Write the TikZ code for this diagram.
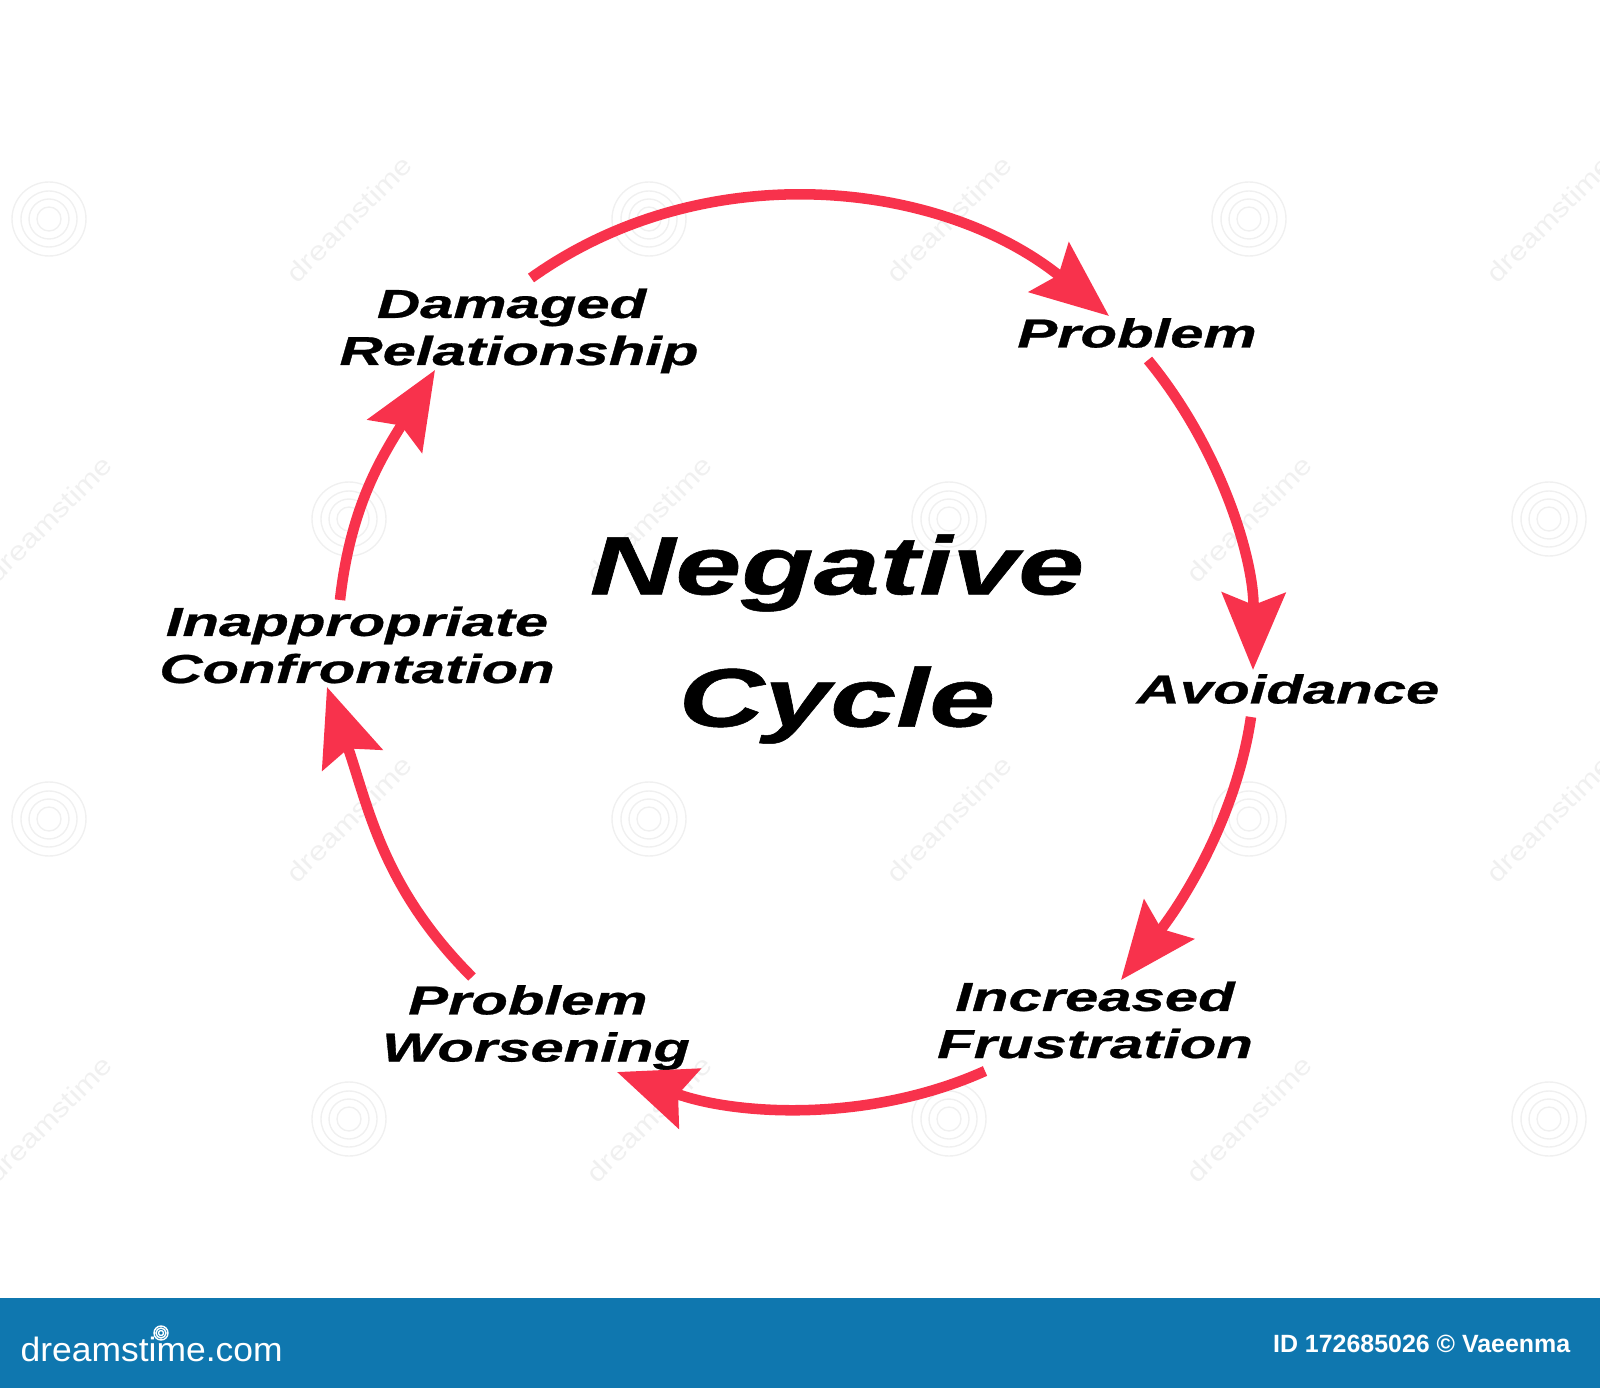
\documentclass[tikz,border=0pt]{standalone}
\usepackage{fontspec}
\setmainfont{Liberation Sans}
\newfontfamily\heavyfont[FakeBold=0.6]{Liberation Sans}
\usetikzlibrary{arrows.meta}
\usetikzlibrary{positioning}
\definecolor{cyclered}{RGB}{248,50,76}
\definecolor{barblue}{RGB}{15,119,175}
\definecolor{markgray}{RGB}{240,240,240}
\tikzset{lbl/.style = {font = \heavyfont\fontsize{11.5}{13.4}\selectfont\bfseries\itshape, align = center, xscale = 1.48, inner sep = 0}}
\tikzset{title/.style = {font = \heavyfont\fontsize{23.6}{37.6}\selectfont\bfseries\itshape, align = center, xscale = 1.43, inner sep = 0}}
\tikzset{cyc/.style = {draw = cyclered, line width = 3pt, looseness = 0.88, -{Stealth[length = 0.77cm, width = 0.63cm, inset = 0.12cm, fill = cyclered]}}}
\tikzset{spiral/.style = {draw = markgray, line width = 0.4pt}}
\tikzset{wmark/.style = {text = markgray, font = \fontsize{7.5}{9}\selectfont, rotate = 45, xscale = 1.2}}

\begin{document}
\begin{tikzpicture}
  \useasboundingbox (0, 0) rectangle (16, 13.88);

  % watermark
  \foreach \x/\y in {0.49/11.69, 6.49/11.69, 12.49/11.69, 3.49/8.69, 9.49/8.69, 15.49/8.69, 0.49/5.69, 6.49/5.69, 12.49/5.69, 3.49/2.69, 9.49/2.69, 15.49/2.69} {
    \foreach \r in {0.12, 0.2, 0.28, 0.37} {
      \draw [spiral] (\x, \y) circle (\r);
    }
  }
  \foreach \x/\y [count=\n] in {3.49/11.69, 9.49/11.69, 15.49/11.69, 0.49/8.69, 6.49/8.69, 12.49/8.69, 3.49/5.69, 9.49/5.69, 15.49/5.69, 0.49/2.69, 6.49/2.69, 12.49/2.69} {
    \node [wmark] (mark\n) at (\x, \y) {dreamstime};
  }

  % labels
  \node [lbl] (damaged) at (5.19, 10.57) {Damaged\hspace*{0.1cm}\\Relationship};
  \node [lbl] (problem) at (11.37, 10.55) {Problem};
  \node [lbl] (avoid) at (12.88, 6.99) {Avoidance};
  \node [lbl] (frustr) at (10.95, 3.68) {Increased\\Frustration};
  \node [lbl] (worse) at (5.36, 3.605) {Problem\hspace*{0.11cm}\\Worsening};
  \node [lbl] (confront) at (3.57, 7.43) {Inappropriate\\Confrontation};
  \node [title] (cycle) at (8.37, 7.49) {Negative\\Cycle};

  % arcs
  \draw [cyc, looseness = 0.95] ([shift={(0.12, 0.53)}]damaged.center) to [out=35.5, in=141] ([shift={(-0.28, 0.17)}]problem.center);
  \draw [cyc] ([shift={(0.11, -0.27)}]problem.center) to [out=-50.5, in=89.5] ([shift={(-0.35, 0.19)}]avoid.center);
  \draw [cyc] ([shift={(-0.37, -0.28)}]avoid.center) to [out=-98.4, in=51.7] ([shift={(0.26, 0.40)}]frustr.center);
  \draw [cyc] ([shift={(-1.10, -0.51)}]frustr.center) to [out=204.2, in=-20.1] ([shift={(0.81, -0.445)}]worse.center);
  \draw [cyc, looseness = 1] ([shift={(-0.64, 0.505)}]worse.center) to [out=135, in=289.1] ([shift={(-0.30, -0.42)}]confront.center);
  \draw [cyc, looseness = 1] ([shift={(-0.17, 0.45)}]confront.center) to [out=83.7, in=238.7] ([shift={(-0.84, -0.39)}]damaged.center);

  % bottom bar
  \fill [barblue] (0, 0) rectangle (16, 0.9);
  \node [text = white, font = \fontsize{9.6}{12}\selectfont, xscale = 1.05, inner sep = 0, anchor = base west] (logo) at (0.2, 0.27) {dreamstime.com};
  \foreach \r in {0.025, 0.05, 0.07} {
    \draw [white, line width = 0.4pt] (1.61, 0.55) circle (\r);
  }
  \node [text = white, font = \fontsize{7.1}{9}\selectfont\bfseries, inner sep = 0, anchor = base east] (ident) at (15.71, 0.36) {ID 172685026 © Vaeenma};
\end{tikzpicture}
\end{document}
